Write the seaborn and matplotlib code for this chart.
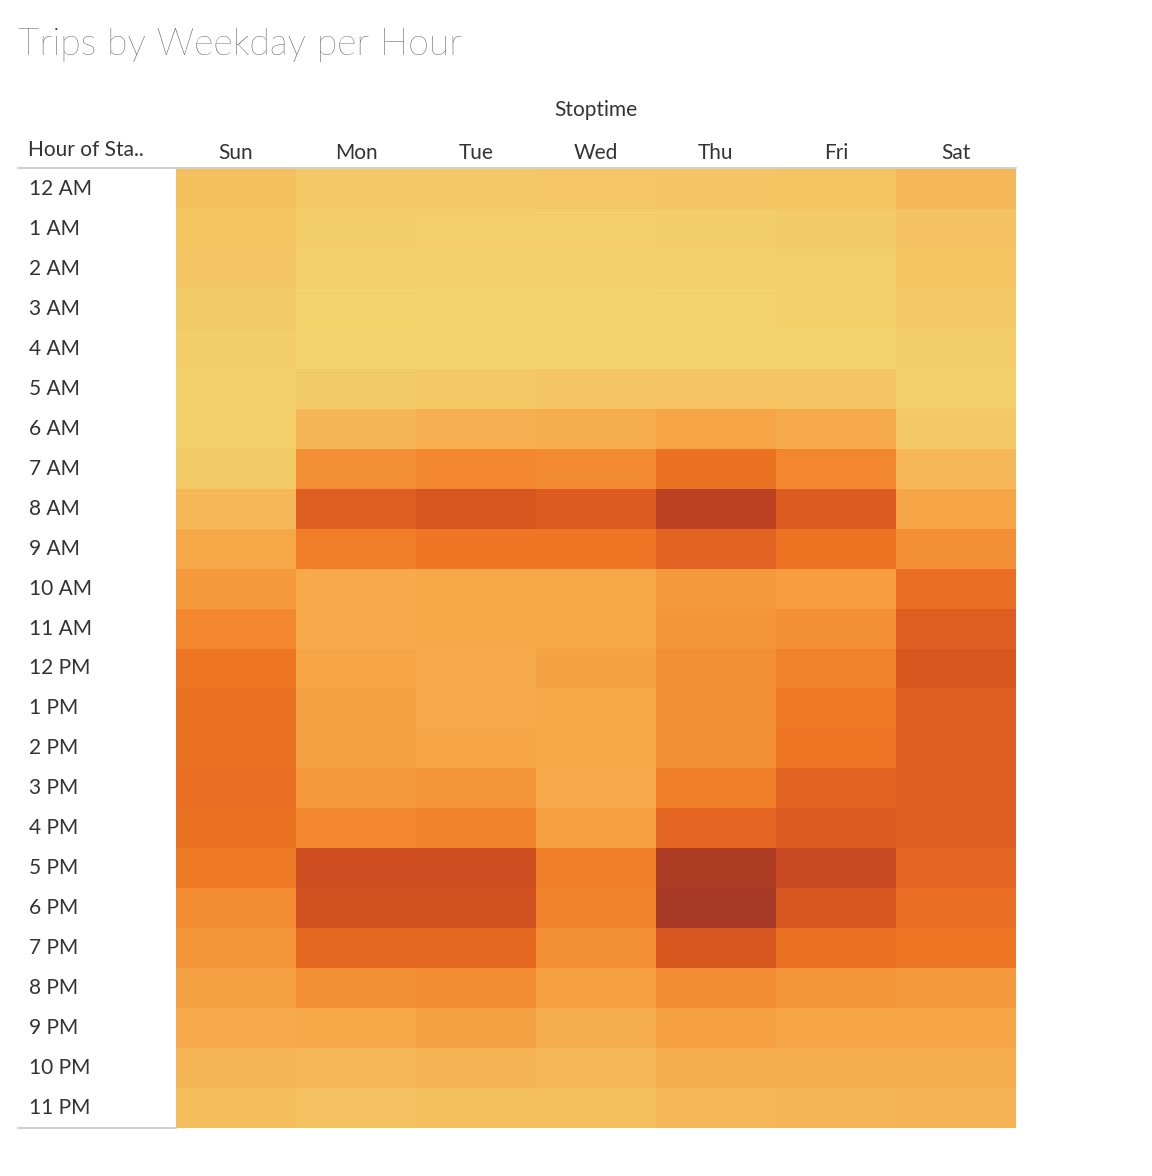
import matplotlib
matplotlib.use("Agg")
import matplotlib.pyplot as plt
import seaborn as sns
import numpy as np
import pandas as pd
from matplotlib.colors import LinearSegmentedColormap
from matplotlib.lines import Line2D

days = ["Sun", "Mon", "Tue", "Wed", "Thu", "Fri", "Sat"]
hours = ["12 AM", "1 AM", "2 AM", "3 AM", "4 AM", "5 AM", "6 AM", "7 AM", "8 AM", "9 AM",
         "10 AM", "11 AM", "12 PM", "1 PM", "2 PM", "3 PM", "4 PM", "5 PM", "6 PM", "7 PM",
         "8 PM", "9 PM", "10 PM", "11 PM"]
sun = [20, 16, 14, 10, 8, 6, 6, 10, 28, 40, 50, 58, 66, 68, 68, 70, 68, 64, 56, 52, 44, 38, 30, 22]
mon = [12, 8, 6, 4, 3, 10, 30, 55, 78, 62, 38, 38, 42, 44, 44, 50, 58, 86, 84, 72, 54, 40, 28, 18]
tue = [12, 7, 5, 3, 2, 12, 35, 58, 82, 66, 40, 40, 38, 38, 42, 52, 60, 86, 84, 72, 56, 44, 32, 20]
wed = [13, 7, 5, 3, 2, 14, 36, 57, 80, 66, 40, 40, 44, 40, 40, 38, 46, 62, 60, 54, 46, 36, 28, 20]
thu = [15, 8, 6, 4, 2, 15, 42, 68, 92, 76, 50, 52, 54, 55, 55, 62, 74, 96, 98, 82, 56, 46, 36, 28]
fri = [16, 9, 7, 5, 3, 15, 38, 58, 80, 67, 48, 54, 60, 64, 66, 76, 80, 88, 82, 68, 52, 42, 36, 30]
sat = [28, 18, 16, 12, 8, 6, 12, 28, 42, 55, 70, 78, 82, 78, 78, 78, 78, 74, 70, 66, 50, 42, 36, 32]

df = pd.DataFrame({"Sun": sun, "Mon": mon, "Tue": tue, "Wed": wed, "Thu": thu, "Fri": fri, "Sat": sat}, index=hours)

cmap = LinearSegmentedColormap.from_list("og", [
    (0.0, "#F2D56E"), (0.3, "#F6B556"), (0.5, "#F59A3C"), (0.65, "#EF7724"),
    (0.8, "#DD5A20"), (0.9, "#C44622"), (1.0, "#A03526")])

fig = plt.figure(figsize=(11.52, 11.76), dpi=100)
ax = fig.add_axes([176/1152, 1-1128/1176, 840/1152, 959/1176])
sns.heatmap(df, ax=ax, cmap=cmap, vmin=0, vmax=100, cbar=False)
ax.set_xlabel(""); ax.set_ylabel("")
ax.xaxis.tick_top()
ax.tick_params(axis="both", length=0)
ax.set_xticklabels(days, fontsize=15, family=["Lato", "DejaVu Sans"], color="#333333")
ax.tick_params(axis="x", pad=4)
ax.set_yticklabels(hours, rotation=0, ha="left", fontsize=15, family=["Lato", "DejaVu Sans"], color="#333333")
ax.tick_params(axis="y", pad=106)

fig.text(18/1152, 1-45/1176, "Trips by Weekday per Hour", fontsize=27, va="center",
         family=["Lato", "DejaVu Sans"], fontweight="light", color="#333333")
fig.text(596/1152, 1-110/1176, "Stoptime", fontsize=15, ha="center", va="center",
         family=["Lato", "DejaVu Sans"], color="#333333")
fig.text(28/1152, 1-150/1176, "Hour of Sta..", fontsize=15, ha="left", va="center",
         family=["Lato", "DejaVu Sans"], color="#333333")
fig.add_artist(Line2D([18/1152, 1016/1152], [1-168/1176]*2, color="#c8c8c8", lw=1.2))
fig.add_artist(Line2D([18/1152, 176/1152], [1-1128/1176]*2, color="#c8c8c8", lw=1.2))
fig.savefig("out.png", dpi=100)
